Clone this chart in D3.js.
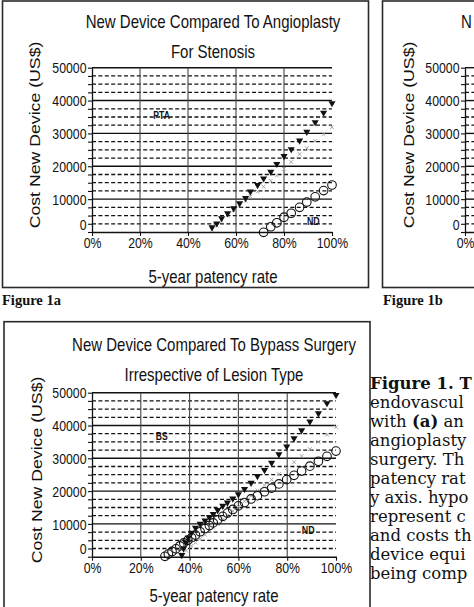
<!DOCTYPE html>
<html lang="en">
<head>
<meta charset="utf-8">
<title>New Device Compared To Angioplasty / Bypass Surgery</title>
<script src="https://d3js.org/d3.v7.min.js"></script>
<style>
  body { margin: 0; background: #fff; }
  svg { display: block; }
</style>
</head>
<body>
<script>
// x = 5-year patency rate (%), y = cost of the new device (US$)

// Figure 1a - compared to angioplasty (PTA) for stenosis
var patencyA   = [50, 52, 54, 56.5, 59, 61.5, 64, 66, 69, 71.5, 74.5, 77, 80, 83, 86.5, 89.5, 93, 96.5, 100];
var ptaCost    = [1400, 2600, 4200, 5700, 7200, 8700, 10300, 12300, 14300, 16300, 18300, 20700, 23100, 25200, 27800, 30500, 33400, 36300, 39200];
var ptaMidCost = [600, 1900, 3300, 5000, 6600, 8000, 9500, 10800, 12300, 13800, 15600, 17200, 19200, 21300, 23700, 25500, 27700, 29800, 31900];
var patencyNdA = [71.5, 74.5, 77, 80, 83, 86.5, 89.5, 93, 96.5, 100];
var ndCostA    = [-100, 1600, 2800, 4500, 5700, 7500, 9100, 10700, 12600, 14300];

// Figure 1c - compared to bypass surgery (BS), irrespective of lesion type
var patencyC   = [36.8, 37.5, 38.5, 39.5, 40.8, 42.4, 44.3, 46.3, 48.1, 49.7, 51.5, 53.6, 55.5, 57.7, 60, 62.5, 65.2, 67.8, 70.7, 73.6, 76.6, 79.8, 82.8, 85.9, 89.3, 92.8, 96.3, 100];
var bsCost     = [500, 2500, 4300, 5800, 7300, 8800, 10000, 11000, 12000, 13000, 14200, 15500, 16500, 17700, 19000, 20600, 22500, 24600, 26400, 28600, 31200, 33600, 36100, 38500, 41200, 43700, 46800, 49300];
var patencyMidC = [36.8, 38.5, 40.8, 42.4, 44.3, 46.3, 48.1, 49.7, 51.5, 53.6, 55.5, 57.7, 60, 62.5, 65.2, 67.8, 70.7, 73.6, 76.6, 79.8, 82.8, 85.9, 89.3, 92.8, 96.3, 100];
var bsMidCost  = [800, 1900, 3300, 4300, 5500, 6700, 7800, 8800, 10000, 11300, 12500, 13900, 15300, 16900, 18600, 20200, 21800, 23500, 25200, 27000, 28800, 30700, 32800, 35000, 37200, 39500];
var patencyNdC = [29.9, 31.3, 32.8, 34.4, 36, 37.6, 39.3, 40.8, 42.4, 44.3, 46.3, 48.1, 49.7, 51.5, 53.6, 55.5, 57.7, 60, 62.5, 65.2, 67.8, 70.7, 73.6, 76.6, 79.8, 82.8, 85.9, 89.3, 92.8, 96.3, 100];
var ndCostC    = [100, 800, 1600, 2400, 3300, 4200, 5000, 5800, 6600, 7600, 8600, 9500, 10300, 11200, 12300, 13300, 14400, 15500, 16500, 17600, 18600, 19800, 20900, 22200, 23500, 24800, 26100, 27600, 29100, 30600, 32200];

// axes
var costTicks = [0, 10000, 20000, 30000, 40000, 50000];
var rateTicks = [0, 20, 40, 60, 80, 100];

var captionLines = ["Figure 1. T", "endovascul", "with (a) an", "angioplasty", "surgery. Th", "patency rat", "y axis. hypo", "represent c", "and costs th", "device equi", "being comp"];

var W = 474, H = 607;
var SY = 1.18; // the scan is a bit taller than it is wide

var svg = d3.select("body").append("svg")
  .attr("width", W)
  .attr("height", H)
  .style("font-family", "'Liberation Sans', Arial, sans-serif");

svg.append("rect").attr("width", W).attr("height", H).attr("fill", "#fff");

// text centred (vertically) on x,y, stretched like the scan
function txt(g, x, y, s, size, anchor, rot) {
  return g.append("text")
    .attr("transform", "translate(" + x + "," + y + ") scale(1," + SY + ")" + (rot ? " rotate(-90)" : ""))
    .attr("dy", "0.36em")
    .attr("text-anchor", anchor || "middle")
    .attr("font-size", size)
    .attr("fill", "#111")
    .text(s);
}

function drawChart(c) {
  var g = svg.append("g");
  var x = d3.scaleLinear().domain([0, 100]).range([c.l, c.r]);
  var y = d3.scaleLinear().domain([0, 50000]).range([c.b, c.t]);

  // frame
  g.append("rect")
    .attr("x", c.box[0]).attr("y", c.box[1])
    .attr("width", c.box[2]).attr("height", c.box[3])
    .attr("fill", "none").attr("stroke", "#2a2a2a").attr("stroke-width", 1.6);

  // titles
  c.titles.forEach(function(t, i) {
    txt(g, c.titleX, c.titleY[i], t, 15, c.titleAnchor);
  });

  // dashed minor gridlines every 2500
  var minor = d3.range(2500, 50000, 2500).filter(function(v) { return v % 10000 !== 0; });
  g.selectAll(".minor")
    .data(minor)
    .enter()
    .append("line")
    .attr("x1", c.l).attr("x2", Math.min(c.r, W))
    .attr("y1", function(d) { return y(d); })
    .attr("y2", function(d) { return y(d); })
    .attr("stroke", "#111").attr("stroke-width", 1.3)
    .attr("stroke-dasharray", "4,2.4");

  // solid major gridlines
  g.selectAll(".major")
    .data(costTicks.slice(1))
    .enter()
    .append("line")
    .attr("x1", c.l).attr("x2", Math.min(c.r, W))
    .attr("y1", function(d) { return y(d); })
    .attr("y2", function(d) { return y(d); })
    .attr("stroke", "#111").attr("stroke-width", 1.4);

  g.selectAll(".vgrid")
    .data(rateTicks.slice(1, -1).filter(function(d) { return x(d) < W; }))
    .enter()
    .append("line")
    .attr("x1", function(d) { return x(d); })
    .attr("x2", function(d) { return x(d); })
    .attr("y1", c.t).attr("y2", c.b)
    .attr("stroke", "#444").attr("stroke-width", 1.1);

  // y axis
  var yAxis = g.append("g")
    .attr("transform", "translate(" + c.l + ",0)")
    .call(d3.axisLeft(y)
      .tickValues(d3.range(0, 50001, 2500))
      .tickSize(4).tickSizeOuter(0)
      .tickFormat(function(d) { return costTicks.indexOf(d) >= 0 ? d : ""; }));
  yAxis.select(".domain").attr("stroke", "#111").attr("stroke-width", 1.3);
  yAxis.selectAll(".tick line").attr("stroke", "#111").attr("stroke-width", 1.1);
  yAxis.selectAll(".tick text")
    .attr("x", -5.5).attr("dy", "0.36em")
    .attr("transform", function(d) { return "translate(0," + (d === 0 ? -8 : 0) + ") scale(1," + SY + ")"; })
    .attr("font-size", 12.3).attr("font-family", "'Liberation Sans', Arial, sans-serif").attr("fill", "#111");

  // x axis (only the ticks that fall on the page)
  var xAxis = g.append("g")
    .attr("transform", "translate(0," + c.b + ")")
    .call(d3.axisBottom(x)
      .tickValues(rateTicks.filter(function(d) { return x(d) < W - 8; }))
      .tickSize(4).tickSizeOuter(0)
      .tickFormat(function(d) { return d + "%"; }));
  xAxis.select(".domain").attr("stroke", "#111").attr("stroke-width", 1.4);
  xAxis.selectAll(".tick line").attr("stroke", "#111").attr("stroke-width", 1.1);
  xAxis.selectAll(".tick text")
    .attr("y", 9.3).attr("dy", "0.36em")
    .attr("transform", "scale(1," + SY + ")")
    .attr("font-size", 12.3).attr("font-family", "'Liberation Sans', Arial, sans-serif").attr("fill", "#111");

  // axis titles
  if (c.xTitleY) txt(g, c.titleX, c.xTitleY, "5-year patency rate", 15);
  txt(g, c.yTitleX, c.yTitleY, "Cost New Device (US$)", 15, "middle", true);

  if (!c.series) return;
  var s = c.series;

  // grey series
  g.selectAll(".mid")
    .data(s.midX.map(function(v, i) { return [v, s.midY[i]]; }))
    .enter()
    .append("path")
    .attr("d", d3.symbol().type(d3.symbolX).size(11))
    .attr("transform", function(d) { return "translate(" + x(d[0]) + "," + y(d[1]) + ")"; })
    .attr("fill", "none").attr("stroke", "#a6a6a6").attr("stroke-width", 1);

  // new device (ND): open circles
  g.selectAll(".nd")
    .data(s.ndX.map(function(v, i) { return [v, s.ndY[i]]; }))
    .enter()
    .append("circle")
    .attr("cx", function(d) { return x(d[0]); })
    .attr("cy", function(d) { return y(d[1]); })
    .attr("r", 4.3)
    .attr("fill", "none").attr("stroke", "#111").attr("stroke-width", 1.1);

  // comparator: filled down triangles
  g.selectAll(".cmp")
    .data(s.cmpX.map(function(v, i) { return [v, s.cmpY[i]]; }))
    .enter()
    .append("path")
    .attr("d", d3.symbol().type(d3.symbolTriangle).size(22))
    .attr("transform", function(d) { return "translate(" + x(d[0]) + "," + y(d[1]) + ") rotate(180)"; })
    .attr("fill", "#111");

  // in-plot labels
  txt(g, x(s.cmpLabel[0]), y(s.cmpLabel[1]), s.cmpLabel[2], 8.6).attr("font-weight", "bold");
  txt(g, x(s.ndLabel[0]), y(s.ndLabel[1]), "ND", 8.8).attr("font-weight", "bold");
}

// Figure 1a
drawChart({
  box: [2.5, 1, 366, 286.5],
  l: 92, r: 332, t: 67.7, b: 232,
  titles: ["New Device Compared To Angioplasty", "For Stenosis"],
  titleX: 213, titleY: [22, 52],
  xTitleY: 277, yTitleX: 35, yTitleY: 135,
  series: {
    cmpX: patencyA, cmpY: ptaCost,
    midX: patencyA, midY: ptaMidCost,
    ndX: patencyNdA, ndY: ndCostA,
    cmpLabel: [29, 35600, "PTA"], ndLabel: [92.2, 3130]
  }
});

// Figure 1b (only its left edge is in view)
drawChart({
  box: [382.5, 1, 366, 286.5],
  l: 465, r: 705, t: 67.7, b: 232,
  titles: ["N"],
  titleX: 461, titleY: [22], titleAnchor: "start",
  yTitleX: 409, yTitleY: 135
});

// Figure 1c
drawChart({
  box: [4, 321.7, 366, 400],
  l: 92, r: 336, t: 392.7, b: 556.7,
  titles: ["New Device Compared To Bypass Surgery", "Irrespective of Lesion Type"],
  titleX: 214, titleY: [345, 375],
  xTitleY: 596, yTitleX: 36.7, yTitleY: 470,
  series: {
    cmpX: patencyC, cmpY: bsCost,
    midX: patencyMidC, midY: bsMidCost,
    ndX: patencyNdC, ndY: ndCostC,
    cmpLabel: [28.6, 36600, "BS"], ndLabel: [88.6, 8140]
  }
});

// figure tags
var serif = "'Liberation Serif', 'Times New Roman', serif";
[["Figure 1a", 2], ["Figure 1b", 383]].forEach(function(f) {
  svg.append("text")
    .attr("x", f[1]).attr("y", 304.5)
    .attr("font-family", serif).attr("font-weight", "bold")
    .attr("font-size", 14.5).attr("fill", "#111")
    .text(f[0]);
});

// caption (cut by the right edge of the page)
var cap = svg.append("g")
  .attr("font-family", "'DejaVu Serif', serif")
  .attr("font-size", 16.5).attr("fill", "#111");
captionLines.forEach(function(line, i) {
  var t = cap.append("text").attr("x", 370).attr("y", 389 + i * 19);
  if (i === 0) {
    t.attr("font-weight", "bold").text(line);
  } else if (line.indexOf("(a)") >= 0) {
    var parts = line.split("(a)");
    t.append("tspan").text(parts[0]);
    t.append("tspan").attr("font-weight", "bold").text("(a)");
    t.append("tspan").text(parts[1]);
  } else {
    t.text(line);
  }
});
</script>
</body>
</html>
